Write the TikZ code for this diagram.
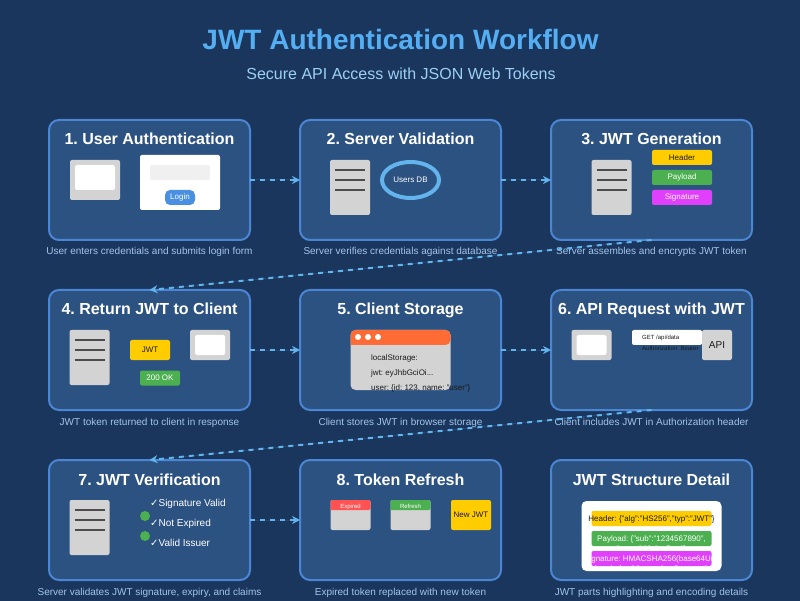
\documentclass[tikz,border=0pt]{standalone}
\usepackage{fontspec}
\setmainfont{Liberation Sans}
\newfontfamily\checkfont{DejaVu Sans}
\frenchspacing
\usepackage{tikz}
\usetikzlibrary{positioning}
\usetikzlibrary{calc}
\usetikzlibrary{shapes.geometric,arrows.meta}
\definecolor{pagebg}{HTML}{1A365D}
\definecolor{cardfill}{HTML}{2C5282}
\definecolor{cardline}{HTML}{4A86D4}
\definecolor{loginblue}{HTML}{4A90E2}
\definecolor{flowblue}{HTML}{63B3ED}
\definecolor{headblue}{HTML}{55ADF2}
\definecolor{subblue}{HTML}{9CCFF5}
\definecolor{capblue}{HTML}{A3C4E8}
\definecolor{icongray}{HTML}{D3D3D3}
\definecolor{fieldgray}{HTML}{F0F0F0}
\definecolor{jwtyellow}{HTML}{FFCC00}
\definecolor{jwtgreen}{HTML}{4CAF50}
\definecolor{jwtpink}{HTML}{E040FB}
\definecolor{barorange}{HTML}{FF6B35}
\definecolor{barred}{HTML}{FF5252}
\definecolor{inkdark}{HTML}{1A1A1A}
\tikzstyle{arrow}=
[line width=2pt,dash pattern=on 5pt off 5pt,-{Stealth[length=8pt,width=8pt]},draw=flowblue,fill=flowblue]
\tikzstyle{card}=
[rectangle,
rounded corners=10pt,
minimum width=201pt,
minimum height=120pt,
inner sep=0pt,
outer sep=0pt,
line width=2pt,
draw=cardline,
fill=cardfill]
\tikzstyle{cardtitle}=
[anchor=base,
inner sep=0pt,
text=white,
font=\fontsize{16}{19}\selectfont\bfseries]
\tikzstyle{cardcap}=
[anchor=base,
inner sep=0pt,
text=capblue,
font=\fontsize{10}{12}\selectfont]
\tikzstyle{box}=
[rectangle,
rounded corners=2pt,
inner sep=0pt,
outer sep=0pt,
font=\fontsize{8}{10}\selectfont]
\tikzstyle{server}=
[box,
minimum width=40pt,
minimum height=55pt,
fill=icongray]
\tikzstyle{computer}=
[box,
minimum width=40pt,
fill=icongray]
\tikzstyle{screen}=
[box,
minimum width=30pt,
fill=white]
\tikzstyle{srvline}=
[line width=1.2pt,draw=black!70]
\tikzstyle{small}=
[anchor=base west,
inner sep=0pt,
font=\fontsize{8}{10}\selectfont]
\tikzstyle{tiny}=
[anchor=base west,
inner sep=0pt,
text=inkdark,
font=\fontsize{6}{8}\selectfont]
\tikzstyle{checkitem}=
[anchor=base west,
inner sep=0pt,
text=white,
font=\fontsize{10}{12}\selectfont]
\begin{document}
\begin{tikzpicture}[x=1pt,y=-1pt]
\fill[pagebg] (0,0) rectangle (800,601);
\node (T) [anchor=base,inner sep=0pt,text=headblue,font=\fontsize{28}{34}\selectfont\bfseries] at (400.5,49.5) {JWT Authentication Workflow};
\node (S) [anchor=base,inner sep=0pt,text=subblue,font=\fontsize{16}{19}\selectfont] at (401,80) {Secure API Access with JSON Web Tokens};
% cards
\node (A) [card] at (149.5,180) {};
\node (B) [card,right=50pt of A] {};
\node (C) [card,right=50pt of B] {};
\node (D) [card,below=50pt of A] {};
\node (E) [card,right=50pt of D] {};
\node (F) [card,right=50pt of E] {};
\node (G) [card,below=50pt of D] {};
\node (H) [card,right=50pt of G] {};
\node (I) [card,right=50pt of H] {};
% titles
\node (A_t) [cardtitle] at ($(A.north)+(0,25)$) {1. User Authentication};
\node (B_t) [cardtitle] at ($(B.north)+(0,25)$) {2. Server Validation};
\node (C_t) [cardtitle] at ($(C.north)+(0,25)$) {3. JWT Generation};
\node (D_t) [cardtitle] at ($(D.north)+(0,25)$) {4. Return JWT to Client};
\node (E_t) [cardtitle] at ($(E.north)+(0,25)$) {5. Client Storage};
\node (F_t) [cardtitle] at ($(F.north)+(0,25)$) {6. API Request with JWT};
\node (G_t) [cardtitle] at ($(G.north)+(0,25)$) {7. JWT Verification};
\node (H_t) [cardtitle] at ($(H.north)+(0,25)$) {8. Token Refresh};
\node (I_t) [cardtitle] at ($(I.north)+(0,25)$) {JWT Structure Detail};
% captions
\node (A_c) [cardcap] at ($(A.south)+(0,15)$) {User enters credentials and submits login form};
\node (B_c) [cardcap] at ($(B.south)+(0,15)$) {Server verifies credentials against database};
\node (C_c) [cardcap] at ($(C.south)+(0,15)$) {Server assembles and encrypts JWT token};
\node (D_c) [cardcap] at ($(D.south)+(0,15)$) {JWT token returned to client in response};
\node (E_c) [cardcap] at ($(E.south)+(0,15)$) {Client stores JWT in browser storage};
\node (F_c) [cardcap] at ($(F.south)+(0,15)$) {Client includes JWT in Authorization header};
\node (G_c) [cardcap] at ($(G.south)+(0,15)$) {Server validates JWT signature, expiry, and claims};
\node (H_c) [cardcap] at ($(H.south)+(0,15)$) {Expired token replaced with new token};
\node (I_c) [cardcap] at ($(I.south)+(0,15)$) {JWT parts highlighting and encoding details};
% card 1
\node (A_1) [computer,minimum width=50pt,minimum height=40pt] at (95,180) {};
\node (A_2) [screen,minimum width=40pt,minimum height=25pt] at (95,177.5) {};
\node (A_3) [box,minimum width=80pt,minimum height=55pt,fill=white] at (180,182.5) {};
\node (A_4) [box,minimum width=60pt,minimum height=15pt,fill=fieldgray] at (180,172.5) {};
\node (A_5) [box,rounded corners=5pt,minimum width=30pt,minimum height=15pt,fill=loginblue,text=white] at (180,197.5) {Login};
% card 2
\node (B_1) [server] at (350,187.5) {};
\draw[srvline] (335,170)--(365,170);
\draw[srvline] (335,180)--(365,180);
\draw[srvline] (335,190)--(365,190);
\node (B_2) [ellipse,minimum width=57pt,minimum height=36pt,inner sep=0pt,line width=4pt,draw=flowblue,text=white,font=\fontsize{8}{10}\selectfont] at (410.5,180) {Users DB};
% card 3
\node (C_1) [server] at (611.5,187.5) {};
\draw[srvline] (596.5,170)--(626.5,170);
\draw[srvline] (596.5,180)--(626.5,180);
\draw[srvline] (596.5,190)--(626.5,190);
\node (C_2) [box,minimum width=60pt,minimum height=15pt,fill=jwtyellow,text=inkdark] at (682,157.5) {Header};
\node (C_3) [box,minimum width=60pt,minimum height=15pt,fill=jwtgreen,text=white] at (682,177.5) {Payload};
\node (C_4) [box,minimum width=60pt,minimum height=15pt,fill=jwtpink,text=white] at (682,197.5) {Signature};
% card 4
\node (D_1) [server] at (89.5,357.5) {};
\draw[srvline] (74.5,340)--(104.5,340);
\draw[srvline] (74.5,350)--(104.5,350);
\draw[srvline] (74.5,360)--(104.5,360);
\node (D_2) [box,minimum width=40pt,minimum height=20pt,fill=jwtyellow,text=inkdark] at (150,350) {JWT};
\node (D_3) [box,minimum width=40pt,minimum height=15pt,fill=jwtgreen,text=white] at (160,378) {200 OK};
\node (D_4) [computer,minimum height=30pt] at (210,345) {};
\node (D_5) [screen,minimum height=20pt] at (210,345) {};
% card 5
\node (E_1) [box,rounded corners=5pt,minimum width=100pt,minimum height=60pt,fill=icongray] at (400.5,360) {};
\fill[barorange] (350.5,345) [rounded corners=5pt] -- (350.5,330) -- (450.5,330) -- (450.5,345) [sharp corners] -- cycle;
\fill[white] (358,337) circle (3);
\fill[white] (368,337) circle (3);
\fill[white] (378,337) circle (3);
\node (E_2) [small,text=inkdark] at (371,360) {localStorage:};
\node (E_3) [small,text=inkdark] at (371,375) {jwt: eyJhbGciOi...};
\node (E_4) [small,text=inkdark] at (371,390) {user: \{id: 123, name: "user"\}};
% card 6
\node (F_1) [computer,minimum height=30pt] at (591.5,345) {};
\node (F_2) [screen,minimum height=20pt] at (591.5,345) {};
\node (F_3) [box,minimum width=70pt,minimum height=15pt,fill=white] at (667,337.5) {};
\node (F_4) [tiny] at (642,340) {GET /api/data};
\node (F_5) [tiny] at (642,350) {Authorization: Bearer};
\node (F_6) [box,minimum width=30pt,minimum height=30pt,fill=icongray,text=inkdark,font=\fontsize{10}{12}\selectfont] at (717,345) {API};
% card 7
\node (G_1) [server] at (89.5,527.5) {};
\draw[srvline] (74.5,510)--(104.5,510);
\draw[srvline] (74.5,520)--(104.5,520);
\draw[srvline] (74.5,530)--(104.5,530);
\node (G_2) [circle,minimum size=10pt,inner sep=0pt,fill=jwtgreen] at (145,516) {};
\node (G_3) [circle,minimum size=10pt,inner sep=0pt,fill=jwtgreen] at (145,536) {};
\node (G_4) [checkitem] at (150,506) {{\checkfont ✓}Signature Valid};
\node (G_5) [checkitem] at (150,526) {{\checkfont ✓}Not Expired};
\node (G_6) [checkitem] at (150,546) {{\checkfont ✓}Valid Issuer};
% card 8
\node (H_1) [box,minimum width=40pt,minimum height=30pt,fill=icongray] at (350.5,515) {};
\fill[barred] (330.5,510) [rounded corners=2pt] -- (330.5,500) -- (370.5,500) -- (370.5,510) [sharp corners] -- cycle;
\node (H_2) [tiny,anchor=base,text=white] at (350.5,508) {Expired};
\node (H_3) [box,minimum width=40pt,minimum height=30pt,fill=icongray] at (410.5,515) {};
\fill[jwtgreen] (390.5,510) [rounded corners=2pt] -- (390.5,500) -- (430.5,500) -- (430.5,510) [sharp corners] -- cycle;
\node (H_4) [tiny,anchor=base,text=white] at (410.5,508) {Refresh};
\node (H_5) [box,minimum width=40pt,minimum height=30pt,fill=jwtyellow,text=inkdark] at (471,515) {New JWT};
% card 9
\node (I_1) [box,rounded corners=5pt,minimum width=140pt,minimum height=70pt,fill=white] at (651.5,536) {};
\node (I_2) [box,minimum width=120pt,minimum height=15pt,fill=jwtyellow] at (651.5,518.5) {};
\node (I_3) [box,minimum width=120pt,minimum height=15pt,fill=jwtgreen] at (651.5,538.5) {};
\node (I_4) [box,minimum width=120pt,minimum height=15pt,fill=jwtpink] at (651.5,558.5) {};
\node (I_5) [small,anchor=base,text=inkdark] at (651.5,521.5) {Header: \{"alg":"HS256","typ":"JWT"\}};
\begin{scope}
\clip (I_3.north west) rectangle (I_3.south east);
\node (I_6) [small,anchor=base,text=white] at (651.5,541.5) {Payload: \{"sub":"1234567890",};
\node (I_7) [small,anchor=base,text=white] at (651.5,551.5) {"name":"John Doe"\}};
\end{scope}
\begin{scope}
\clip (I_4.north west) rectangle (I_4.south east);
\node (I_8) [small,text=white] at (584,561.5) {Signature: HMACSHA256(base64UrlEncode(};
\node (I_9) [small,anchor=base,text=white] at (651.5,571.5) {header) + "." + payload), secret)};
\end{scope}
% flow
\draw[arrow](A.east)--(B.west);
\draw[arrow](B.east)--(C.west);
\draw[arrow](C.south)--(D.north);
\draw[arrow](D.east)--(E.west);
\draw[arrow](E.east)--(F.west);
\draw[arrow](F.south)--(G.north);
\draw[arrow](G.east)--(H.west);
\end{tikzpicture}
\end{document}
